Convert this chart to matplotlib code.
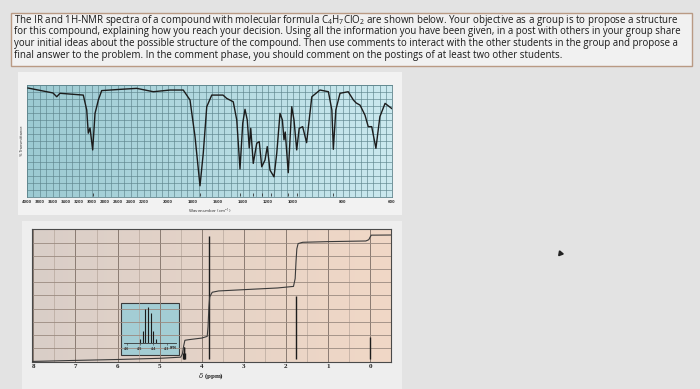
import matplotlib.pyplot as plt
import matplotlib.patches as patches
import numpy as np

plt.rcParams['mathtext.fontset'] = 'custom'
plt.rcParams['mathtext.rm'] = 'Open Sans'

W, H = 700, 389

# question text
question_lines = [
    r"The IR and 1H-NMR spectra of a compound with molecular formula C$_4$H$_7$ClO$_2$ are shown below. Your objective as a group is to propose a structure",
    "for this compound, explaining how you reach your decision. Using all the information you have been given, in a post with others in your group share",
    "your initial ideas about the possible structure of the compound. Then use comments to interact with the other students in the group and propose a",
    "final answer to the problem. In the comment phase, you should comment on the postings of at least two other students.",
]
question_widths = [667, 671, 669, 551]

# IR spectrum (wavenumber in cm-1, % transmittance)
ir_wavenumber = [3985, 3599, 3541, 3491, 3131, 3078, 3054, 3027, 2986, 2950, 2924, 2899,
                 2847, 2564, 2306, 2120, 1984, 1878, 1824, 1784, 1744, 1718, 1690, 1650,
                 1560, 1530, 1478, 1450, 1424, 1402, 1384, 1366, 1350, 1338, 1318, 1290,
                 1270, 1250, 1224, 1206, 1184, 1152, 1130, 1104, 1085, 1072, 1062, 1038,
                 1010, 996, 985, 975, 961, 945, 924, 891, 857, 843, 837, 827, 810, 777,
                 756, 745, 729, 709, 696, 682, 665, 649, 628, 601]
ir_transmittance = [97.3, 92.9, 89.5, 92.6, 91.0, 77.7, 57.0, 61.6, 42.0, 74.7, 80.6, 86.6,
                    95.0, 96.1, 97.0, 94.0, 95.5, 95.5, 86.6, 54.0, 10.0, 39.0, 80.6, 91.0,
                    91.0, 88.0, 85.0, 68.8, 25.0, 66.0, 78.3, 68.8, 43.8, 61.3, 30.0, 48.0,
                    49.4, 27.0, 33.0, 45.0, 24.0, 18.0, 39.0, 74.7, 68.8, 51.0, 58.0, 21.7,
                    80.6, 68.8, 42.0, 61.3, 62.8, 48.5, 89.5, 95.5, 94.0, 77.7, 42.6, 77.7,
                    92.6, 94.0, 86.6, 84.0, 82.0, 73.0, 62.8, 62.8, 43.5, 71.7, 83.6, 79.0]
ir_peak_marks = [2986, 1744, 1424, 1318, 1250, 1176, 1038, 985, 837]
ir_tick_values = [4000, 3800, 3600, 3400, 3200, 3000, 2800, 2600, 2400, 2200,
                  2000, 1800, 1600, 1400, 1200, 1000, 800, 600]

# 1H-NMR spectrum
nmr_peak_ppm = [4.45, 4.43, 4.41, 4.39, 3.83, 1.76, 0.0]
nmr_peak_height = [5, 9.5, 9, 5, 95, 48.7, 17.4]
nmr_integral_ppm = [8.04, 7.0, 6.0, 5.0, 4.5, 4.46, 4.43, 4.40, 4.3, 4.0, 3.87, 3.85,
                    3.83, 3.81, 3.75, 3.6, 3.0, 2.2, 1.82, 1.78, 1.76, 1.74, 1.71, 1.6,
                    1.0, 0.1, 0.03, 0.0, -0.03, -0.1, -0.49]
nmr_integral_level = [-1.8, -1.0, -0.3, 0.6, 1.5, 4, 10, 14.5, 15, 16.2, 17.5, 25,
                      40, 48, 51.5, 52.5, 53.5, 54.8, 56, 62, 75, 85, 89, 90,
                      90.5, 91, 92, 94, 95.5, 95.5, 95.6]
nmr_tick_values = [8, 7, 6, 5, 4, 3, 2, 1, 0]
inset_peak_ppm = [4.50, 4.48, 4.46, 4.44, 4.42, 4.40, 4.38]
inset_peak_height = [12, 35, 95, 100, 82, 35, 12]
inset_tick_values = [4.6, 4.5, 4.4, 4.3]

fig = plt.figure(figsize=(7, 3.89), dpi=100)
fig.patch.set_facecolor('#e3e3e3')


def px_axes(x0, y0, x1, y1):
    return fig.add_axes([x0 / W, 1 - y1 / H, (x1 - x0) / W, (y1 - y0) / H])


# background layer in pixel coordinates
bg = px_axes(0, 0, W, H)
bg.axis('off')
bg.add_patch(patches.Rectangle((11, 13), 681, 53, facecolor='#f1f1f1',
                               edgecolor='#b99a84', lw=1.0))
bg.add_patch(patches.Rectangle((18, 72), 384, 143, facecolor='#f2f2f2', edgecolor='none'))
bg.add_patch(patches.Rectangle((22, 221), 380, 168, facecolor='#eeeeee', edgecolor='none'))


def gradient(x0, y0, x1, y1, c_left, c_right):
    a = np.array(plt.matplotlib.colors.to_rgb(c_left))
    b = np.array(plt.matplotlib.colors.to_rgb(c_right))
    t = np.linspace(0, 1, 200)[None, :, None]
    img = a + (b - a) * t
    bg.imshow(img, extent=[x0, x1, y1, y0], aspect='auto', zorder=1)


gradient(27, 85, 392, 197, '#9ccad2', '#cbe9ef')
gradient(31.7, 229.3, 390.7, 361.7, '#d9cec8', '#f1d8c6')
bg.set_xlim(0, W)
bg.set_ylim(H, 0)

# mouse pointer
bg.plot(560, 253, marker=(3, 0, 20), color='#222222', ms=4, zorder=3)

# question text, each line fitted to its width in the screenshot
renderer = fig.canvas.get_renderer()
for i, (line, target) in enumerate(zip(question_lines, question_widths)):
    t = bg.text(14, 20 + i * 11.7, line, fontsize=7, family='Open Sans',
                color='#1a1a1a', va='center', ha='left', zorder=4)
    w = t.get_window_extent(renderer).width
    t.set_fontsize(7 * target / w)

# ---------- IR spectrum ----------
# chart paper: 4000-2200 compressed, 2200-1000 expanded, 1000-600 wider again
ir_anchor_wn = np.array([600, 1000, 2000, 2200, 4000])
ir_anchor_pos = np.array([0.0, 99.0, 224.0, 248.4, 365.0])


def ir_fwd(w):
    return np.interp(np.asarray(w, dtype=float), ir_anchor_wn, ir_anchor_pos)


def ir_inv(p):
    return np.interp(np.asarray(p, dtype=float), ir_anchor_pos, ir_anchor_wn)


ax = px_axes(27, 85, 392, 197)
ax.set_facecolor('none')
ax.set_xscale('function', functions=(ir_fwd, ir_inv))
ax.set_xlim(4000, 600)
ax.set_ylim(0, 100)

vgrid = list(range(4000, 2200, -100)) + list(range(2200, 1000, -50)) + list(range(1000, 600, -25))
ax.vlines(vgrid, 0, 100, color='#5e858d', lw=0.45, zorder=1)
ax.hlines(np.linspace(0, 100, 17), 4000, 600, color='#5e858d', lw=0.45, zorder=1)
ax.vlines(ir_peak_marks, 1.0, 3.5, color='#333333', lw=0.6, zorder=2)
ax.plot(ir_wavenumber, ir_transmittance, color='#1c1c1c', lw=1.0, zorder=3)

for s in ax.spines.values():
    s.set_color('#5e858d')
    s.set_linewidth(0.6)
ax.set_xticks(ir_tick_values)
ax.set_xticklabels([str(v) for v in ir_tick_values], fontsize=2.6,
                   fontweight='bold', color='#333333')
ax.tick_params(axis='x', length=0, pad=2)
ax.set_yticks([])
ax.set_xlabel('Wavenumber (cm$^{-1}$)', fontsize=3, color='#333333', labelpad=2)
ax.set_ylabel('% Transmittance', fontsize=2.6, color='#333333', labelpad=2)

# ---------- 1H-NMR spectrum ----------
nx = px_axes(31.7, 229.3, 390.7, 361.7)
nx.set_facecolor('none')
nx.set_xlim(8.04, -0.49)
nx.set_ylim(-2, 100)
for p in np.arange(8, -0.5, -0.5):
    major = float(p).is_integer()
    nx.axvline(p, color='#8a7b72' if major else '#b3a398',
               lw=0.7 if major else 0.45, zorder=1)
for k in range(1, 10):
    nx.axhline(-2 + 102 * k / 10, color='#9a8a80', lw=0.6, zorder=1)

nx.vlines(nmr_peak_ppm, 0, nmr_peak_height, color='#1c1c1c', lw=1.0, zorder=3)
nx.plot(nmr_integral_ppm, nmr_integral_level, color='#3a3a3a', lw=0.8, zorder=3)
for s in nx.spines.values():
    s.set_color('#4a4a4a')
    s.set_linewidth(0.8)
nx.set_xticks(nmr_tick_values)
nx.set_xticklabels([str(v) for v in nmr_tick_values], fontsize=5,
                   family='Liberation Serif', fontweight='bold', color='#222222')
nx.tick_params(axis='x', length=0, pad=2)
nx.set_yticks([])
nx.set_xlabel(r'$\delta$ (ppm)', fontsize=5, family='Liberation Serif',
              fontweight='bold', color='#222222', labelpad=1)

# inset with the expanded multiplet
bg.add_patch(patches.Rectangle((120.7, 302.7), 58.6, 52.3, facecolor='#a3cdd4',
                               edgecolor='#3a3a3a', lw=0.8, zorder=5))
ix = px_axes(124, 305, 176, 343.3)
ix.set_facecolor('none')
ix.set_zorder(6)
ix.set_xlim(4.645 - (124 - 120.7) / 133.3, 4.645 - (176 - 120.7) / 133.3)
ix.set_ylim(0, 105)
ix.vlines(inset_peak_ppm, 0, inset_peak_height, color='#1c1c1c', lw=0.8)
for s in ['top', 'left', 'right']:
    ix.spines[s].set_visible(False)
ix.spines['bottom'].set_color('#333333')
ix.spines['bottom'].set_linewidth(0.6)
ix.set_xticks(inset_tick_values)
ix.set_xticklabels([f'{v:.1f}' for v in inset_tick_values], fontsize=2.2,
                   fontweight='bold', color='#333333')
ix.tick_params(axis='x', length=1.2, width=0.4, pad=1.5, color='#333333')
ix.set_yticks([])
ix.text(4.275, -13, 'PPM', fontsize=2.0, fontweight='bold',
        color='#333333', ha='left', va='center')

fig.savefig('out.png', dpi=100, facecolor=fig.get_facecolor())
